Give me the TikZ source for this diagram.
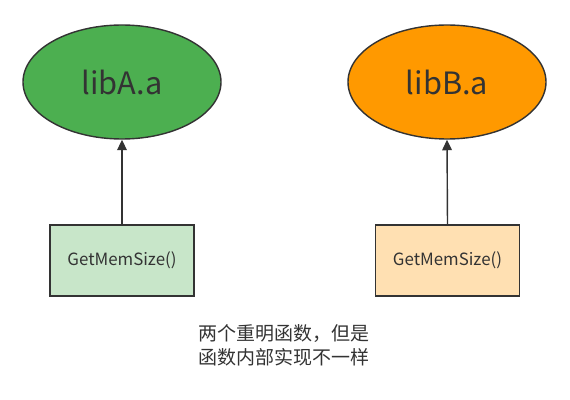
\documentclass[tikz,border=0pt]{standalone}
\usepackage{fontspec}
\setmainfont{Noto Sans CJK SC}
\usetikzlibrary{arrows.meta,positioning,shapes.geometric}
\definecolor{strokegray}{HTML}{333333}
\definecolor{libgreen}{HTML}{4CAF50}
\definecolor{liborange}{HTML}{FF9900}
\definecolor{funcgreen}{HTML}{C8E6C9}
\definecolor{funcorange}{HTML}{FFE0B2}
\tikzset{
      libnode/.style={
        ellipse,
        draw=strokegray,
        line width=0.8pt,
        minimum width=3.96cm,
        minimum height=2.28cm,
        inner sep=0pt,
        text=strokegray,
        font=\fontsize{17.5}{20}\selectfont
      },
      funcbox/.style={
        rectangle,
        draw=strokegray,
        line width=0.8pt,
        minimum width=2.88cm,
        minimum height=1.42cm,
        inner sep=0pt,
        text=strokegray,
        font=\fontsize{9.6}{11}\selectfont
      },
      linkarrow/.style={
        -{Triangle[length=6pt,width=5.5pt]},
        line width=0.8pt,
        draw=strokegray
      }
    }

\begin{document}
\begin{tikzpicture}[x=1cm,y=1cm]
    \useasboundingbox (0,0) rectangle (11.4,-8);
    \node[libnode, fill=libgreen] (libA) at (2.44,-1.64) {libA.a};
    \node[libnode, fill=liborange] (libB) at (8.94,-1.64) {libB.a};
    \node[funcbox, fill=funcgreen] (funcA) at (2.44,-5.21) {GetMemSize()};
    \node[funcbox, fill=funcorange] (funcB) at (8.95,-5.21) {GetMemSize()};
    \node[align=center, text=strokegray, font=\fontsize{10.8}{13.7}\selectfont] (note) at (5.68,-6.9) {两个重明函数，但是\\函数内部实现不一样};
    \draw[linkarrow] (funcA.north) -- (libA.south);
    \draw[linkarrow] (funcB.north) -- (libB.south);
    \end{tikzpicture}
\end{document}
